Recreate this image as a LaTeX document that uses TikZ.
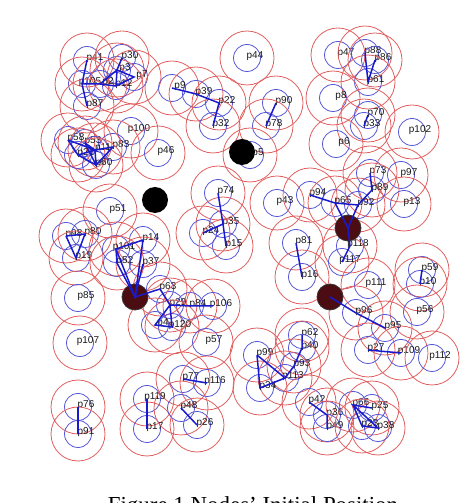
\documentclass[tikz,border=0pt]{standalone}
\usepackage{fontspec}
\setmainfont{Liberation Serif}
\setsansfont{Liberation Sans}
\usetikzlibrary{positioning}

\definecolor{rangecol}{RGB}{225,95,95}
\definecolor{sensecol}{RGB}{85,85,215}
\definecolor{linkcol}{RGB}{25,25,205}
\definecolor{headcol}{RGB}{75,12,18}

\tikzset{
  reach/.style={circle, draw=rangecol, line width=0.8bp, minimum size=54bp, inner sep=0pt},
  sensor/.style={circle, draw=sensecol, line width=0.8bp, minimum size=27bp, inner sep=0pt,
    label={[reach]center:}},
  ptag/.style={font=\sffamily\fontsize{10}{10}\selectfont, text=black!90, xshift=8bp, yshift=2bp, inner sep=0pt},
  plink/.style={draw=linkcol, line width=1.5bp},
  chhead/.style={circle, fill=black, minimum size=26bp, inner sep=0pt},
  chsink/.style={chhead, fill=headcol, draw=black!80, line width=0.8bp},
}

\begin{document}
\begin{tikzpicture}
  \useasboundingbox (0,0) rectangle (474bp,503bp);
  \clip (0,0) rectangle (474bp,503bp);
%% upper left group
  \node (p41) at (87bp,443bp) [sensor, label={[ptag]center:p41}] {};
  \node (p30) at (122bp,445bp) [sensor, label={[ptag]center:p30}] {};
  \node (p3) at (117bp,433bp) [sensor, label={[ptag]center:p3}] {};
  \node (p7) at (134bp,426bp) [sensor, label={[ptag]center:p7}] {};
  \node (p105) at (82bp,419bp) [sensor, label={[ptag]center:p105}] {};
  \node (p2) at (100bp,419bp) [sensor, label={[ptag]center:p2}] {};
  \node (p12) at (116bp,417bp) [sensor, label={[ptag]center:p12}] {};
  \node (p87) at (87bp,397bp) [sensor, label={[ptag]center:p87}] {};
  \node (p9) at (172bp,415bp) [sensor, label={[ptag]center:p9}] {};
  \node (p39) at (196bp,409bp) [sensor, label={[ptag]center:p39}] {};
  \node (p22) at (219bp,400bp) [sensor, label={[ptag]center:p22}] {};
  \node (p32) at (213bp,377bp) [sensor, label={[ptag]center:p32}] {};
  \node (p100) at (131bp,372bp) [sensor, label={[ptag]center:p100}] {};
  \node (p46) at (158bp,350bp) [sensor, label={[ptag]center:p46}] {};
  \node (p44) at (247bp,445bp) [sensor, label={[ptag]center:p44}] {};
  \node (p90) at (276bp,400bp) [sensor, label={[ptag]center:p90}] {};
  \node (p78) at (266bp,377bp) [sensor, label={[ptag]center:p78}] {};
  \node (p5) at (250bp,348bp) [sensor, label={[ptag]center:p5}] {};
  \node (p58) at (68bp,363bp) [sensor, label={[ptag]center:p58}] {};
  \node (p53) at (85bp,360bp) [sensor, label={[ptag]center:p53}] {};
  \node (p83) at (113bp,356bp) [sensor, label={[ptag]center:p83}] {};
  \node (p11) at (95bp,353bp) [sensor, label={[ptag]center:p11}] {};
  \node (p21) at (78bp,348bp) [sensor, label={[ptag]center:p21}] {};
  \node (p60) at (96bp,338bp) [sensor, label={[ptag]center:p60}] {};
%% upper right group
  \node (p47) at (338bp,448bp) [sensor, label={[ptag]center:p47}] {};
  \node (p88) at (365bp,450bp) [sensor, label={[ptag]center:p88}] {};
  \node (p86) at (375bp,443bp) [sensor, label={[ptag]center:p86}] {};
  \node (p61) at (368bp,421bp) [sensor, label={[ptag]center:p61}] {};
  \node (p8) at (333bp,405bp) [sensor, label={[ptag]center:p8}] {};
  \node (p70) at (368bp,388bp) [sensor, label={[ptag]center:p70}] {};
  \node (p33) at (364bp,377bp) [sensor, label={[ptag]center:p33}] {};
  \node (p6) at (336bp,359bp) [sensor, label={[ptag]center:p6}] {};
  \node (p102) at (412bp,371bp) [sensor, label={[ptag]center:p102}] {};
  \node (p73) at (370bp,330bp) [sensor, label={[ptag]center:p73}] {};
  \node (p97) at (401bp,328bp) [sensor, label={[ptag]center:p97}] {};
%% middle
  \node (p51) at (110bp,292bp) [sensor, label={[ptag]center:p51}] {};
  \node (p74) at (218bp,310bp) [sensor, label={[ptag]center:p74}] {};
  \node (p35) at (223bp,279bp) [sensor, label={[ptag]center:p35}] {};
  \node (p24) at (203bp,270bp) [sensor, label={[ptag]center:p24}] {};
  \node (p15) at (226bp,257bp) [sensor, label={[ptag]center:p15}] {};
  \node (p98) at (66bp,267bp) [sensor, label={[ptag]center:p98}] {};
  \node (p80) at (85bp,269bp) [sensor, label={[ptag]center:p80}] {};
  \node (p19) at (76bp,245bp) [sensor, label={[ptag]center:p19}] {};
  \node (p14) at (143bp,263bp) [sensor, label={[ptag]center:p14}] {};
  \node (p101) at (116bp,254bp) [sensor, label={[ptag]center:p101}] {};
  \node (p52) at (117bp,240bp) [sensor, label={[ptag]center:p52}] {};
  \node (p37) at (143bp,239bp) [sensor, label={[ptag]center:p37}] {};
  \node (p63) at (160bp,214bp) [sensor, label={[ptag]center:p63}] {};
  \node (p29) at (170bp,198bp) [sensor, label={[ptag]center:p29}] {};
  \node (p84) at (190bp,197bp) [sensor, label={[ptag]center:p84}] {};
  \node (p106) at (213bp,197bp) [sensor, label={[ptag]center:p106}] {};
  \node (p4) at (155bp,178bp) [sensor, label={[ptag]center:p4}] {};
  \node (p120) at (172bp,176bp) [sensor, label={[ptag]center:p120}] {};
  \node (p85) at (78bp,205bp) [sensor, label={[ptag]center:p85}] {};
  \node (p107) at (80bp,160bp) [sensor, label={[ptag]center:p107}] {};
  \node (p57) at (206bp,161bp) [sensor, label={[ptag]center:p57}] {};
  \node (p43) at (277bp,300bp) [sensor, label={[ptag]center:p43}] {};
  \node (p94) at (310bp,308bp) [sensor, label={[ptag]center:p94}] {};
  \node (p65) at (335bp,300bp) [sensor, label={[ptag]center:p65}] {};
  \node (p92) at (358bp,298bp) [sensor, label={[ptag]center:p92}] {};
  \node (p89) at (372bp,313bp) [sensor, label={[ptag]center:p89}] {};
  \node (p13) at (404bp,299bp) [sensor, label={[ptag]center:p13}] {};
  \node (p81) at (296bp,260bp) [sensor, label={[ptag]center:p81}] {};
  \node (p16) at (302bp,226bp) [sensor, label={[ptag]center:p16}] {};
  \node (p118) at (350bp,257bp) [sensor, label={[ptag]center:p118}] {};
  \node (p117) at (342bp,241bp) [sensor, label={[ptag]center:p117}] {};
  \node (p111) at (368bp,218bp) [sensor, label={[ptag]center:p111}] {};
  \node (p59) at (422bp,233bp) [sensor, label={[ptag]center:p59}] {};
  \node (p10) at (420bp,219bp) [sensor, label={[ptag]center:p10}] {};
  \node (p96) at (356bp,190bp) [sensor, label={[ptag]center:p96}] {};
  \node (p56) at (417bp,191bp) [sensor, label={[ptag]center:p56}] {};
  \node (p95) at (385bp,175bp) [sensor, label={[ptag]center:p95}] {};
%% lower groups
  \node (p62) at (302bp,168bp) [sensor, label={[ptag]center:p62}] {};
  \node (p40) at (302bp,155bp) [sensor, label={[ptag]center:p40}] {};
  \node (p99) at (257bp,148bp) [sensor, label={[ptag]center:p99}] {};
  \node (p93) at (294bp,137bp) [sensor, label={[ptag]center:p93}] {};
  \node (p113) at (285bp,125bp) [sensor, label={[ptag]center:p113}] {};
  \node (p34) at (260bp,115bp) [sensor, label={[ptag]center:p34}] {};
  \node (p27) at (368bp,153bp) [sensor, label={[ptag]center:p27}] {};
  \node (p109) at (401bp,150bp) [sensor, label={[ptag]center:p109}] {};
  \node (p112) at (432bp,145bp) [sensor, label={[ptag]center:p112}] {};
  \node (p77) at (183bp,124bp) [sensor, label={[ptag]center:p77}] {};
  \node (p116) at (207bp,120bp) [sensor, label={[ptag]center:p116}] {};
  \node (p119) at (147bp,104bp) [sensor, label={[ptag]center:p119}] {};
  \node (p17) at (147bp,74bp) [sensor, label={[ptag]center:p17}] {};
  \node (p48) at (181bp,95bp) [sensor, label={[ptag]center:p48}] {};
  \node (p26) at (197bp,78bp) [sensor, label={[ptag]center:p26}] {};
  \node (p76) at (78bp,96bp) [sensor, label={[ptag]center:p76}] {};
  \node (p91) at (78bp,69bp) [sensor, label={[ptag]center:p91}] {};
  \node (p42) at (309bp,101bp) [sensor, label={[ptag]center:p42}] {};
  \node (p36) at (327bp,88bp) [sensor, label={[ptag]center:p36}] {};
  \node (p49) at (327bp,75bp) [sensor, label={[ptag]center:p49}] {};
  \node (p66) at (353bp,98bp) [sensor, label={[ptag]center:p66}] {};
  \node (p25) at (372bp,95bp) [sensor, label={[ptag]center:p25}] {};
  \node (p23) at (362bp,77bp) [sensor, label={[ptag]center:p23}] {};
  \node (p38) at (378bp,75bp) [sensor, label={[ptag]center:p38}] {};
%% cluster heads
  \node (h1) at (155bp,303bp) [chhead] {};
  \node (h2) at (242bp,351bp) [chhead] {};
  \node (h3) at (135bp,206bp) [chsink] {};
  \node (h4) at (348bp,275bp) [chsink] {};
  \node (h5) at (330bp,206bp) [chsink] {};
%% links
  \draw [plink] (p41.center) -- (p105.center) -- (p87.center);
  \draw [plink] (p105.center) -- (p2.center) -- (p12.center) -- (p7.center) -- (p3.center) -- (p12.center);
  \draw [plink] (p30.center) -- (p3.center);
  \draw [plink] (p2.center) -- (p3.center);
  \draw [plink] (p9.center) -- (p39.center) -- (p22.center) -- (p32.center);
  \draw [plink] (p90.center) -- (p78.center);
  \draw [plink] (p58.center) -- (p11.center) -- (p53.center);
  \draw [plink] (p83.center) -- (p11.center) -- (p21.center) -- (p58.center);
  \draw [plink] (p11.center) -- (p60.center) -- (p21.center);
  \draw [plink] (p53.center) -- (p60.center) -- (p83.center);
  \draw [plink] (p88.center) -- (p61.center) -- (p86.center);
  \draw [plink] (p70.center) -- (p33.center);
  \draw [plink] (p74.center) -- (p35.center) -- (p15.center);
  \draw [plink] (p24.center) -- (p35.center);
  \draw [plink] (p98.center) -- (p19.center) -- (p80.center) -- (p98.center);
  \draw [plink] (p14.center) -- (p101.center) -- (p52.center) -- (h3.center);
  \draw [plink] (p101.center) -- (h3.center) -- (p14.center);
  \draw [plink] (p37.center) -- (h3.center) -- (p63.center) -- (p29.center) -- (p84.center) -- (p106.center);
  \draw [plink] (p29.center) -- (p4.center) -- (p120.center) -- (p29.center);
  \draw [plink] (p94.center) -- (p65.center) -- (p92.center) -- (p89.center) -- (p73.center);
  \draw [plink] (p65.center) -- (h4.center) -- (p92.center);
  \draw [plink] (h4.center) -- (p118.center) -- (p117.center);
  \draw [plink] (p81.center) -- (p16.center);
  \draw [plink] (p59.center) -- (p10.center);
  \draw [plink] (h5.center) -- (p96.center) -- (p95.center);
  \draw [plink] (p62.center) -- (p40.center) -- (p93.center) -- (p113.center);
  \draw [plink] (p99.center) -- (p34.center) -- (p113.center) -- (p99.center);
  \draw [plink] (p27.center) -- (p109.center);
  \draw [plink] (p77.center) -- (p116.center);
  \draw [plink] (p119.center) -- (p17.center);
  \draw [plink] (p48.center) -- (p26.center);
  \draw [plink] (p76.center) -- (p91.center);
  \draw [plink] (p42.center) -- (p36.center) -- (p49.center);
  \draw [plink] (p66.center) -- (p23.center) -- (p38.center) -- (p66.center) -- (p25.center);
%% caption
  \node (cap) at (253bp,-9bp) [anchor=base, font=\fontsize{23}{23}\selectfont] {Figure 1 Nodes' Initial Position};
\end{tikzpicture}
\end{document}
